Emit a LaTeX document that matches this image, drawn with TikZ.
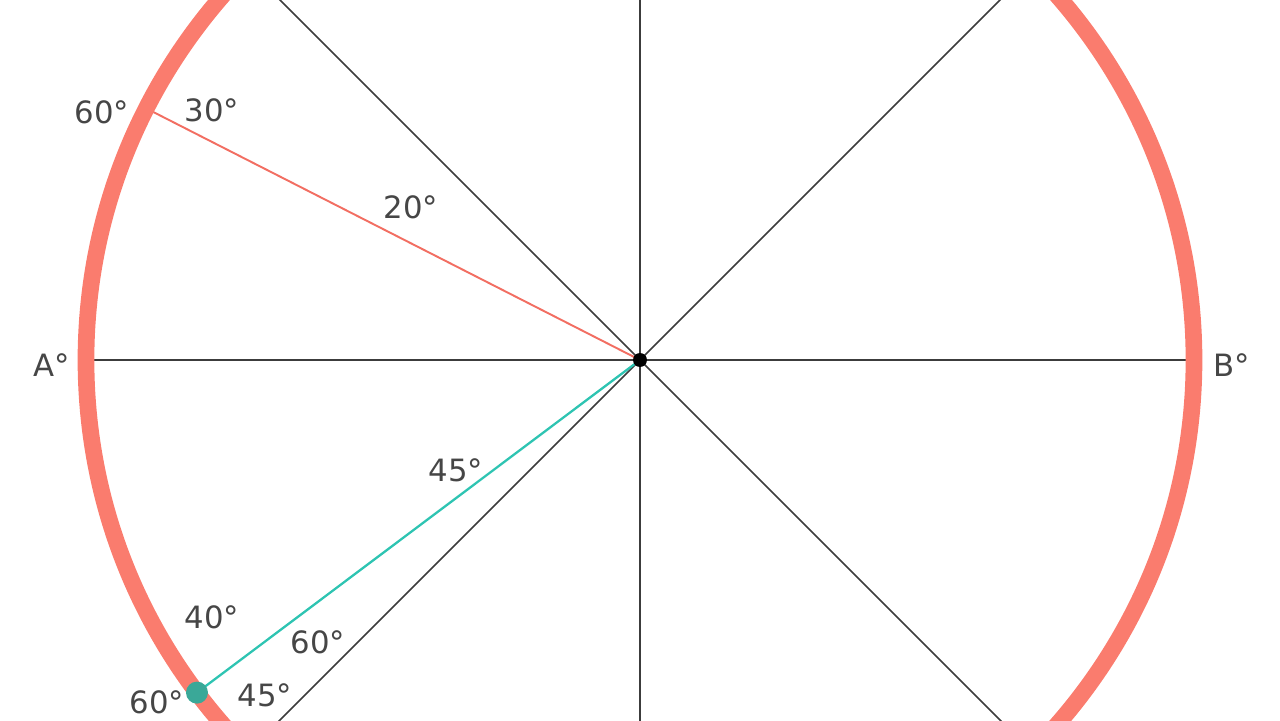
\documentclass[tikz,border=0pt]{standalone}
\usepackage{fontspec}
\setmainfont{DejaVu Sans}
\usepackage{xcolor}
\definecolor{ringRed}{RGB}{250, 124, 110}
\definecolor{rayRed}{RGB}{242, 110, 98}
\definecolor{rayTeal}{RGB}{46, 196, 178}
\definecolor{dotTeal}{RGB}{58, 168, 152}
\definecolor{labelGray}{RGB}{70, 70, 70}
\definecolor{spokeGray}{RGB}{60, 60, 60}
\tikzset{
  spoke/.style={draw=spokeGray, line width=0.85pt},
  ring/.style={draw=ringRed, line width=9.5pt},
  angle label/.style={text=labelGray, font=\fontsize{17.5}{20}\selectfont, inner sep=0pt},
  hub/.style={circle, fill=black, inner sep=0pt, minimum size=0.28cm},
  marker/.style={circle, fill=dotTeal, inner sep=0pt, minimum size=0.44cm}
}

\begin{document}
\begin{tikzpicture}
            \useasboundingbox (-12.8,-7.2) rectangle (12.8,7.2);
            \clip (-12.8,-7.2) rectangle (12.8,7.2);
            \def\R{11.08}
            % spokes every 45 degrees
            \coordinate (O) at (0,0);
            \foreach \a in {0,45,...,315}
                \draw[spoke] (O) -- (\a:\R);
            \draw[ring] (O) circle (\R);
            % the two rays
            \coordinate (redEnd) at (153:10.92);
            \coordinate (tealEnd) at (216.9:\R);
            \draw[rayRed, line width=1.1pt] (O) -- (redEnd);
            \draw[rayTeal, line width=1.3pt] (O) -- (tealEnd);
            \node[marker] (tealDot) at (tealEnd) {};
            \node[hub] (hub) at (O) {};
            % labels
            \node[angle label] (topSixty) at (-10.76,4.96) {60°};
            \node[angle label] (thirty) at (-8.56,5.0) {30°};
            \node[angle label] (twenty) at (-4.58,3.06) {20°};
            \node[angle label] (labA) at (-11.76,-0.1) {A°};
            \node[angle label] (labB) at (11.84,-0.1) {B°};
            \node[angle label] (tealFortyFive) at (-3.68,-2.2) {45°};
            \node[angle label] (forty) at (-8.56,-5.14) {40°};
            \node[angle label] (midSixty) at (-6.44,-5.64) {60°};
            \node[angle label] (lowFortyFive) at (-7.5,-6.7) {45°};
            \node[angle label] (lowSixty) at (-9.66,-6.84) {60°};
        \end{tikzpicture}
\end{document}
